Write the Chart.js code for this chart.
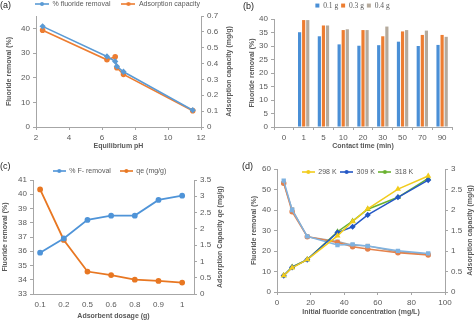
<!DOCTYPE html>
<html>
<head>
<meta charset="utf-8">
<script src="https://cdn.jsdelivr.net/npm/chart.js@4.4.1/dist/chart.umd.min.js"></script>
<style>
  body { margin: 0; background: #fff; width: 474px; height: 321px; overflow: hidden; position: relative; }
  .panel { position: absolute; }
  .tag { position: absolute; font: 9px 'Liberation Sans', Arial, sans-serif; color: #222; }
</style>
</head>
<body>
<div class="panel" style="left:0;top:0;width:237px;height:160px"><canvas id="chartA"></canvas></div>
<div class="panel" style="left:237px;top:0;width:237px;height:160px"><canvas id="chartB"></canvas></div>
<div class="panel" style="left:0;top:160px;width:237px;height:161px"><canvas id="chartC"></canvas></div>
<div class="panel" style="left:237px;top:160px;width:237px;height:161px"><canvas id="chartD"></canvas></div>
<div class="tag" style="left:0;top:0">(a)</div>
<div class="tag" style="left:243px;top:1px">(b)</div>
<div class="tag" style="left:0;top:161px">(c)</div>
<div class="tag" style="left:242px;top:161px">(d)</div>
<script>
// (a) effect of equilibrium pH
const phValues = [2.4, 6.3, 6.8, 6.9, 7.3, 11.5];
const phRemoval = [40.8, 28.6, 26.6, 24.6, 22.4, 6.8];
const phCapacity = [0.61, 0.424, 0.443, 0.374, 0.332, 0.103];

// (b) contact time, three adsorbent doses
const timeLabels = ['0', '1', '5', '10', '20', '30', '50', '70', '90'];
const dose01 = [0, 35.1, 33.6, 30.6, 30.1, 30.3, 31.6, 30.0, 30.4];
const dose03 = [0, 39.6, 37.6, 35.9, 35.9, 33.6, 35.4, 34.1, 34.1];
const dose04 = [0, 39.6, 37.6, 36.2, 35.9, 37.2, 35.9, 35.7, 33.4];

// (c) adsorbent dosage
const dosageLabels = ['0.1', '0.2', '0.5', '0.6', '0.8', '0.9', '1'];
const dosageRemoval = [35.9, 36.9, 38.2, 38.5, 38.5, 39.6, 39.9];
const dosageQe = [3.21, 1.66, 0.69, 0.58, 0.44, 0.40, 0.35];

// (d) initial fluoride concentration at three temperatures
const initConc = [4, 9, 18, 36, 45, 54, 72, 90];
const qe298 = [0.40, 0.59, 0.79, 1.37, 1.72, 2.03, 2.51, 2.83];
const qe309 = [0.40, 0.60, 0.79, 1.45, 1.59, 1.88, 2.31, 2.73];
const qe318 = [0.40, 0.61, 0.79, 1.47, 1.73, 2.02, 2.31, 2.77];
const removalBlue = [54.3, 40.0, 27.1, 22.9, 23.2, 22.4, 20.1, 18.8];
const removalOrange = [53.1, 39.2, 27.0, 24.2, 22.1, 21.0, 19.2, 18.1];
const removalGrey = [53.1, 40.3, 27.0, 24.6, 22.8, 22.5, 19.5, 18.4];

const TEXT = '#595959';
const AXIS = '#a6a6a6';
const FONT = "'Liberation Sans', Arial, sans-serif";

Chart.defaults.font.family = FONT;
Chart.defaults.font.size = 8;
Chart.defaults.color = TEXT;
Chart.defaults.animation = false;

// line + marker legend icon
function lineIcon(color, len) {
  const c = document.createElement('canvas');
  c.width = len;
  c.height = 8;
  const g = c.getContext('2d');
  g.strokeStyle = color;
  g.lineWidth = 1.6;
  g.beginPath();
  g.moveTo(0, 4);
  g.lineTo(len, 4);
  g.stroke();
  g.fillStyle = color;
  g.beginPath();
  g.arc(len / 2, 4, 2, 0, Math.PI * 2);
  g.fill();
  return c;
}

// fixed legend height (sets plot top) plus a small draw shift, no clipping
const legendBox = {
  id: 'legendBox',
  afterInit(chart, args, opts) {
    const lg = chart.legend;
    if (!lg) return;
    const fit = lg.fit.bind(lg);
    lg.fit = function () { fit(); this.height = opts.height; };
    lg.draw = function () {
      if (!this.options.display) return;
      this.ctx.save();
      this.ctx.translate(opts.dx || 0, opts.dy || 0);
      this._draw();
      this.ctx.restore();
    };
  }
};

// right axis title reading bottom-to-top like Excel
const rightTitle = {
  id: 'rightTitle',
  afterDraw(chart, args, opts) {
    if (!opts.text) return;
    const { ctx, chartArea } = chart;
    ctx.save();
    ctx.translate(chartArea.right + opts.offset, (chartArea.top + chartArea.bottom) / 2);
    ctx.rotate(-Math.PI / 2);
    ctx.font = 'bold 7px ' + FONT;
    ctx.fillStyle = TEXT;
    ctx.textAlign = 'center';
    ctx.textBaseline = 'middle';
    ctx.fillText(opts.text, 0, 0);
    ctx.restore();
  }
};

function lineLegend(icons, padding) {
  return {
    position: 'top',
    labels: {
      usePointStyle: true,
      pointStyleWidth: icons[0].width,
      padding: padding,
      font: { size: 7 },
      color: TEXT,
      generateLabels: chart => Chart.defaults.plugins.legend.labels.generateLabels(chart)
        .filter(item => item.datasetIndex < icons.length)
        .map(item => Object.assign(item, { pointStyle: icons[item.datasetIndex] }))
    }
  };
}

function gridOpts() {
  return { drawOnChartArea: false, drawTicks: true, tickLength: 3, color: AXIS };
}

function axisTitle(text, pad) {
  return { display: true, text: text, color: TEXT, font: { size: 7, weight: 'bold' }, padding: pad };
}

// Excel style numbers: 3 not 3.0
function numTicks(step) {
  return { stepSize: step, color: TEXT, callback: v => String(Number(v.toFixed(4))) };
}

// (a)
const blueA = '#5b9bd5', orangeA = '#ed7d31';
new Chart(document.getElementById('chartA'), {
  type: 'line',
  data: {
    datasets: [
      { label: '% fluoride removal', data: phValues.map((x, i) => ({ x, y: phRemoval[i] })), yAxisID: 'y',
        borderColor: blueA, backgroundColor: blueA, borderWidth: 1.6, pointRadius: 2, pointStyle: 'rectRot' },
      { label: 'Adsorption capacity', data: phValues.map((x, i) => ({ x, y: phCapacity[i] })), yAxisID: 'y1',
        borderColor: orangeA, backgroundColor: orangeA, borderWidth: 1.6, pointRadius: 2 }
    ]
  },
  options: {
    responsive: true,
    maintainAspectRatio: false,
    layout: { padding: 0 },
    plugins: {
      legend: lineLegend([lineIcon(blueA, 14), lineIcon(orangeA, 14)], 11),
      legendBox: { height: 16, dx: -1, dy: -10.5 },
      rightTitle: { text: 'Adsorption capacity (mg/g)', offset: 28 },
      tooltip: { enabled: false }
    },
    scales: {
      x: { type: 'linear', min: 2, max: 12, ticks: numTicks(2), grid: gridOpts(),
           border: { color: AXIS }, title: axisTitle('Equilibrium pH', { top: 0, bottom: 9.8 }),
           afterFit: s => { s.height = 33; } },
      y: { position: 'left', min: 0, max: 45, ticks: numTicks(5), grid: gridOpts(),
           border: { color: AXIS }, title: axisTitle('Fluoride removal (%)', { top: 4.8, bottom: 0 }),
           afterFit: s => { s.width = 36; } },
      y1: { position: 'right', min: 0, max: 0.7, ticks: numTicks(0.1), grid: gridOpts(),
            border: { color: AXIS }, afterFit: s => { s.width = 36; } }
    }
  },
  plugins: [legendBox, rightTitle]
});

// (b)
const blueB = '#4a8fd6', orangeB = '#ed7d31', greyB = '#b5aa9c';
new Chart(document.getElementById('chartB'), {
  type: 'bar',
  data: {
    labels: timeLabels,
    datasets: [
      { label: '0.1 g', data: dose01, backgroundColor: blueB },
      { label: '0.3 g', data: dose03, backgroundColor: orangeB },
      { label: '0.4 g', data: dose04, backgroundColor: greyB }
    ]
  },
  options: {
    responsive: true,
    maintainAspectRatio: false,
    layout: { padding: { right: 22 } },
    datasets: { bar: { categoryPercentage: 0.62, barPercentage: 0.78 } },
    plugins: {
      legend: {
        position: 'top',
        labels: { boxWidth: 4, boxHeight: 4, padding: 3, color: TEXT,
                  font: { family: "'Liberation Serif', 'Times New Roman', serif", size: 7.5 } }
      },
      legendBox: { height: 19, dx: 8, dy: -1.2 },
      tooltip: { enabled: false }
    },
    scales: {
      x: { ticks: { color: TEXT }, grid: gridOpts(), border: { color: AXIS },
           title: axisTitle('Contact time (min)', { top: 0, bottom: 10.1 }),
           afterFit: s => { s.height = 33; } },
      y: { min: 0, max: 40, ticks: numTicks(5), grid: gridOpts(), border: { color: AXIS },
           title: axisTitle('Fluoride removal (%)', { top: 10.8, bottom: 0 }),
           afterFit: s => { s.width = 37; } }
    }
  },
  plugins: [legendBox]
});

// (c)
const blueC = '#4f94d8', orangeC = '#e87722';
new Chart(document.getElementById('chartC'), {
  type: 'line',
  data: {
    datasets: [
      { label: '% F- removal', data: dosageRemoval.map((y, i) => ({ x: i, y })), yAxisID: 'y',
        borderColor: blueC, backgroundColor: blueC, borderWidth: 1.8, pointRadius: 2 },
      { label: 'qe (mg/g)', data: dosageQe.map((y, i) => ({ x: i, y })), yAxisID: 'y1',
        borderColor: orangeC, backgroundColor: orangeC, borderWidth: 1.8, pointRadius: 2 }
    ]
  },
  options: {
    responsive: true,
    maintainAspectRatio: false,
    layout: { padding: 0 },
    plugins: {
      legend: lineLegend([lineIcon(blueC, 13), lineIcon(orangeC, 13)], 9),
      legendBox: { height: 20, dx: -9, dy: -1.5 },
      rightTitle: { text: 'Adsorption Capacity qe (mg/g)', offset: 26 },
      tooltip: { enabled: false }
    },
    scales: {
      x: { type: 'linear', min: -0.3, max: 6.5,
           ticks: { stepSize: 1, includeBounds: false, padding: 6, color: TEXT, callback: v => dosageLabels[v] ?? '' },
           grid: { display: false, drawTicks: false }, border: { color: AXIS },
           title: axisTitle('Adsorbent dosage (g)', { top: 0, bottom: 1.1 }),
           afterFit: s => { s.height = 27; } },
      y: { position: 'left', min: 33, max: 41, ticks: numTicks(1), grid: gridOpts(),
           border: { color: AXIS }, title: axisTitle('Fluoride removal (%)', { top: 0.8, bottom: 0 }),
           afterFit: s => { s.width = 33; } },
      y1: { position: 'right', min: 0, max: 3.5, ticks: numTicks(0.5), grid: gridOpts(),
            border: { color: AXIS }, afterFit: s => { s.width = 43; } }
    }
  },
  plugins: [legendBox, rightTitle]
});

// (d)
const yellowD = '#f2cc1c', navyD = '#2457c5', greenD = '#69b22f';
const lightBlueD = '#7fb2e0', orangeD = '#e5814a', greyD = '#a5a5a5';
function concData(values) { return initConc.map((x, i) => ({ x, y: values[i] })); }
new Chart(document.getElementById('chartD'), {
  type: 'line',
  data: {
    datasets: [
      { label: '298 K', data: concData(qe298), yAxisID: 'y1', borderColor: yellowD, backgroundColor: yellowD,
        borderWidth: 1.5, pointRadius: 2, pointStyle: 'triangle' },
      { label: '309 K', data: concData(qe309), yAxisID: 'y1', borderColor: navyD, backgroundColor: navyD,
        borderWidth: 1.5, pointRadius: 2, pointStyle: 'rectRot' },
      { label: '318 K', data: concData(qe318), yAxisID: 'y1', borderColor: greenD, backgroundColor: greenD,
        borderWidth: 1.5, pointRadius: 2, pointStyle: 'triangle' },
      { label: '', data: concData(removalBlue), yAxisID: 'y', borderColor: lightBlueD, backgroundColor: lightBlueD,
        borderWidth: 1.5, pointRadius: 2, pointStyle: 'rect' },
      { label: '', data: concData(removalOrange), yAxisID: 'y', borderColor: orangeD, backgroundColor: orangeD,
        borderWidth: 1.5, pointRadius: 2 },
      { label: '', data: concData(removalGrey), yAxisID: 'y', borderColor: greyD, backgroundColor: greyD,
        borderWidth: 1.5, pointRadius: 2, pointStyle: 'rect' }
    ]
  },
  options: {
    responsive: true,
    maintainAspectRatio: false,
    layout: { padding: 0 },
    plugins: {
      legend: lineLegend([lineIcon(yellowD, 13), lineIcon(navyD, 13), lineIcon(greenD, 13)], 3.5),
      legendBox: { height: 9, dx: 2, dy: 5 },
      rightTitle: { text: 'Adsorption capacity (mg/g)', offset: 25.5 },
      tooltip: { enabled: false }
    },
    scales: {
      x: { type: 'linear', min: 0, max: 100, ticks: numTicks(20), grid: gridOpts(),
           border: { color: AXIS }, title: axisTitle('Initial fluoride concentration (mg/L)', { top: 0, bottom: 5.1 }),
           afterFit: s => { s.height = 29; } },
      y: { position: 'left', min: 0, max: 60, ticks: numTicks(10), grid: gridOpts(),
           border: { color: AXIS }, title: axisTitle('Fluoride removal (%)', { top: 12.5, bottom: 0 }),
           afterFit: s => { s.width = 40; } },
      y1: { position: 'right', min: 0, max: 3, ticks: numTicks(0.5), grid: gridOpts(),
            border: { color: AXIS }, afterFit: s => { s.width = 29; } }
    }
  },
  plugins: [legendBox, rightTitle]
});
</script>
</body>
</html>
